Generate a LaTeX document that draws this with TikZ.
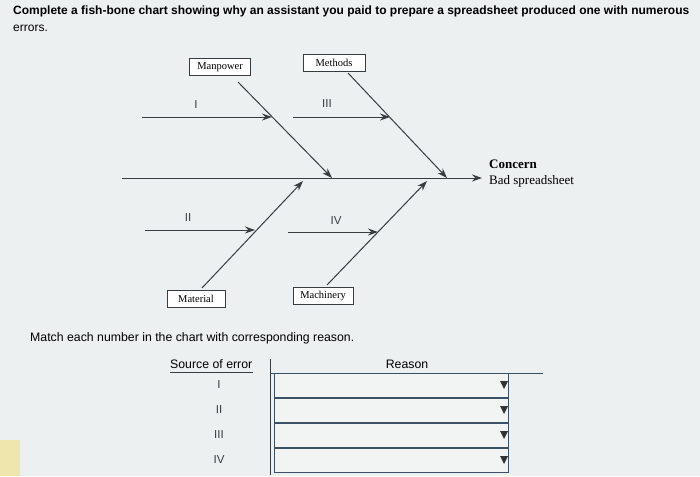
\documentclass[tikz,border=0pt]{standalone}
\usepackage{fontspec}
\setmainfont{Liberation Serif}
\newfontfamily\sans{Liberation Sans}
\usetikzlibrary{arrows.meta}
\definecolor{bg}{RGB}{236,240,240}
\definecolor{ln}{RGB}{55,60,65}
\definecolor{tb}{RGB}{60,80,100}
\tikzset{
  lab/.style={draw=ln,fill=white,inner sep=1.5pt,minimum height=17pt,font=\fontsize{10.5}{11}\selectfont},
  bone/.style={draw=ln,line width=1pt,-{Stealth[length=10pt,width=7pt]}},
  num/.style={font=\sans\fontsize{11.5}{12}\selectfont,text=ln},
  cell/.style={draw=tb,line width=0.8pt,fill=bg!70!white},
}
\begin{document}
\begin{tikzpicture}[x=1pt,y=-1pt]
\fill[bg] (0,0) rectangle (700,476);
\useasboundingbox (0,0) rectangle (700,476);
\fill[yellow!25!bg!90!brown] (0,440) rectangle (20,476);
\node[anchor=west,font=\sans\bfseries\fontsize{12}{14}\selectfont,inner sep=0] (t1) at (13,11) {Complete a fish-bone chart showing why an assistant you paid to prepare a spreadsheet produced one with numerous};
\node[anchor=west,font=\sans\fontsize{12}{14}\selectfont,inner sep=0] (t2) at (13,28) {errors.};
% spine
\coordinate (s0) at (122,178);
\coordinate (s1) at (482,178);
\draw[bone] (s0) -- (s1);
\node[anchor=north west,align=left,inner sep=0,font=\fontsize{13}{16}\selectfont] (conc) at (489,160) {\textbf{Concern}\\Bad spreadsheet};
% boxes
\node[lab,minimum width=61pt] (man) at (220,67) {Manpower};
\node[lab,minimum width=62pt] (met) at (334,63) {Methods};
\node[lab,minimum width=58pt] (mat) at (196,299) {Material};
\node[lab,minimum width=60pt] (mac) at (323,296) {Machinery};
\coordinate (m1) at (332,178); \coordinate (m2) at (447,178);
\coordinate (m3) at (303,181); \coordinate (m4) at (427,181);
\draw[bone] (238,82) -- (m1);
\draw[bone] (348,73) -- (m2);
\draw[bone] (202,288) -- (m3);
\draw[bone] (327,285) -- (m4);
% branches
\coordinate (b1) at (272,117); \coordinate (b3) at (390,117);
\coordinate (b2) at (255,230); \coordinate (b4) at (378,232);
\draw[bone] (142,117) -- (b1);
\draw[bone] (293,117) -- (b3);
\draw[bone] (145,230) -- (b2);
\draw[bone] (288,232) -- (b4);
\node[num] (n1) at (196,105) {I};
\node[num] (n3) at (327,104) {III};
\node[num] (n2) at (188,218) {II};
\node[num] (n4) at (336,221) {IV};
% bottom
\node[anchor=west,font=\sans\fontsize{12.3}{14}\selectfont,inner sep=0] (match) at (30,338) {Match each number in the chart with corresponding reason.};
\node[anchor=west,font=\sans\fontsize{12.3}{14}\selectfont,inner sep=0] (src) at (170,364) {Source of error};
\draw[ln] (170,372) -- (253,372);
\node[font=\sans\fontsize{12.3}{14}\selectfont] (rea) at (407,364) {Reason};
\draw[ln] (270,359) -- (270,475);
\draw[tb,line width=0.8pt] (270,373) -- (543,373);
\foreach \y/\l [count=\i] in {373/I,398/II,423/III,448/IV}{
  \draw[cell] (274,\y) rectangle (508,\y+24);
  \fill[black!80] (500,\y+8) -- (508,\y+8) -- (504,\y+16) -- cycle;
  \node[num] (r\i) at (219,\y+12) {\l};
}
\end{tikzpicture}
\end{document}
